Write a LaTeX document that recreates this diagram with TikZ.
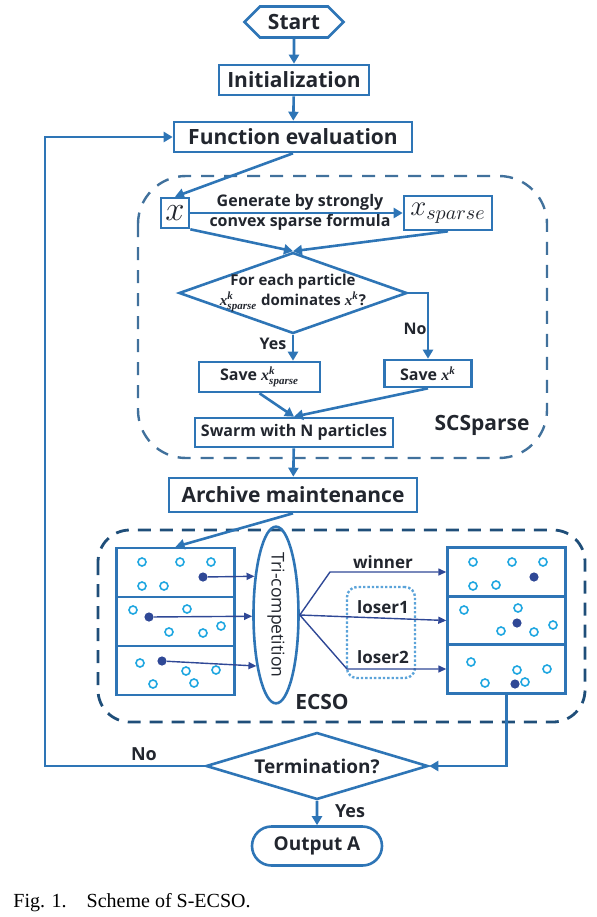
\documentclass[tikz,border=0pt]{standalone}
\usepackage{fontspec}
\setmainfont{Open Sans}
\newfontfamily\capfont{Liberation Serif}
\usetikzlibrary{shapes.geometric,shapes.symbols,shapes.misc,arrows.meta}
\definecolor{flowblue}{RGB}{46,117,182}
\definecolor{ecsoblue}{RGB}{31,78,121}
\definecolor{scsblue}{RGB}{65,113,156}
\definecolor{navy}{RGB}{47,72,150}
\definecolor{dotcyan}{RGB}{30,166,224}
\definecolor{dotlight}{RGB}{91,163,217}
\definecolor{inkgray}{RGB}{34,38,46}
\newcommand{\serifbi}{\capfont\bfseries\itshape}
\newcommand{\xsp}{${\hbox{\serifbi x}}^{\hbox{\serifbi\fontsize{5.5}{6}\selectfont k}}_{\hbox{\serifbi\fontsize{5.5}{6}\selectfont sparse}}$}
\newcommand{\xk}{${\hbox{\serifbi x}}^{\hbox{\serifbi\fontsize{5.5}{6}\selectfont k}}$}
\begin{document}
\begin{tikzpicture}[x=0.5pt,y=-0.5pt]
\tikzset{box/.style = {draw=flowblue, line width=1.3pt, fill=white, text=inkgray, inner sep=0pt, font=\bfseries\fontsize{10.5}{12}\selectfont},
  small/.style = {font=\bfseries\fontsize{8}{10}\selectfont, text=inkgray},
  decide/.style = {box, shape=diamond, aspect=2.8},
  flow/.style = {draw=flowblue, line width=1.3pt, -{Triangle[width=5pt,length=4.5pt]}},
  pick/.style = {draw=navy, line width=0.7pt, -{Triangle[width=3.5pt,length=4pt]}},
  cell/.style = {draw=flowblue, line width=1.2pt, minimum width=59pt, minimum height=24.5pt, inner sep=0pt},
  hollow/.style = {circle, draw=dotcyan, line width=0.8pt, minimum size=4pt, inner sep=0pt},
  solid/.style = {circle, fill=navy, minimum size=4.6pt, inner sep=0pt}}
\useasboundingbox (0,0) rectangle (597,917);
\draw[scsblue, line width=1.2pt, dash pattern=on 6.5pt off 5pt, rounded corners=24pt] (138,176) rectangle (547,458);
\draw[ecsoblue, line width=1.4pt, dash pattern=on 6.5pt off 4.5pt, rounded corners=16pt] (98,530) rectangle (585,722);
\node[box, shape=signal, signal to=west and east, minimum width=49.5pt, minimum height=15.5pt] (start) at (294,22) {Start};
\node[box, minimum width=75pt, minimum height=15pt] (init) at (294,80) {Initialization};
\node[box, minimum width=119pt, minimum height=15pt] (feval) at (293,137) {Function evaluation};
\node[box, minimum width=14pt, minimum height=15pt] (xorig) at (175,213) {\LARGE$x$};
\node[box, minimum width=44pt, minimum height=17pt] (xsparse) at (448,213) {\Large$x_{sparse}$};
\node[box, decide, inner xsep=-9pt, inner ysep=-3pt, minimum width=114pt, minimum height=40.5pt, font=\bfseries\fontsize{7.5}{10}\selectfont, align=center] (dom) at (293,293) {For each particle\\\xsp{} dominates \xk?};
\node[box, minimum width=60.5pt, minimum height=15pt, font=\bfseries\fontsize{8}{10}\selectfont] (savesp) at (259.5,377) {Save \xsp};
\node[box, minimum width=43.5pt, minimum height=13.5pt, font=\bfseries\fontsize{8}{10}\selectfont] (savex) at (428,373.5) {Save \xk};
\node[box, minimum width=99pt, minimum height=14.5pt, font=\bfseries\fontsize{8}{10}\selectfont] (swarm) at (294,432.5) {Swarm with N particles};
\node[box, minimum width=124pt, minimum height=17pt] (arch) at (293,495) {Archive maintenance};
\node[cell] (L1) at (175.5,572.5) {}; \node[cell] (L2) at (175.5,621.5) {}; \node[cell] (L3) at (175.5,670.5) {};
\node[cell] (R1) at (506.5,572) {}; \node[cell] (R2) at (506.5,620.5) {}; \node[cell] (R3) at (506.5,669) {};
\node[ellipse, draw=flowblue, line width=1.3pt, minimum width=22.5pt, minimum height=78pt, inner sep=0pt, text=inkgray, font=\fontsize{8.8}{10}\selectfont] (tri) at (276,615) {\rotatebox{-90}{Tri-competition}};
\node[draw=dotlight, line width=1.2pt, dash pattern=on 1.2pt off 1pt, rounded corners=5pt, minimum width=34pt, minimum height=45.5pt] (grp) at (381,632.5) {};
\node[box, decide, aspect=3.3, minimum width=111pt, minimum height=33.5pt, font=\bfseries\fontsize{9.5}{12}\selectfont] (term) at (317,766) {Termination?};
\node[box, shape=rounded rectangle, minimum width=65pt, minimum height=19.5pt, font=\bfseries\fontsize{9.5}{12}\selectfont] (out) at (317,846) {Output A};

\node[small, align=center] (gen) at (300,212) {Generate by strongly\\convex sparse formula};
\node[small] (no1) at (415,329) {No}; \node[small] (yes1) at (273,344) {Yes};
\node[font=\bfseries\fontsize{10.5}{12}\selectfont, text=inkgray] (scs) at (482,425) {SCSparse};
\node[font=\bfseries\fontsize{10.5}{12}\selectfont, text=inkgray] (ecso) at (322,702) {ECSO};
\node[small, font=\bfseries\fontsize{8.5}{10}\selectfont] (win) at (383,562) {winner}; \node[small, font=\bfseries\fontsize{8.5}{10}\selectfont] (los1) at (383,607) {loser1}; \node[small, font=\bfseries\fontsize{8.5}{10}\selectfont] (los2) at (383,657) {loser2};
\node[small, font=\bfseries\fontsize{9}{10}\selectfont] (no2) at (144,754) {No}; \node[small, font=\bfseries\fontsize{9}{10}\selectfont] (yes2) at (350,811) {Yes};
\node[anchor=west, inner sep=0pt, font=\capfont\fontsize{10}{12}\selectfont] (cap) at (13,903) {Fig. 1.\hspace{1em}Scheme of S-ECSO.};

\node[hollow] (a1) at (142,562) {}; \node[hollow] (a2) at (180,562) {}; \node[hollow] (a3) at (211,562) {}; \node[hollow] (a4) at (142,586) {}; \node[hollow] (a5) at (164,586) {};
\node[hollow] (a6) at (133,610) {}; \node[hollow] (a7) at (187,609) {}; \node[hollow] (a8) at (169,632) {}; \node[hollow] (a9) at (203,633) {}; \node[hollow] (a10) at (221,626) {};
\node[hollow] (a11) at (140,663) {}; \node[hollow] (a12) at (186,671) {}; \node[hollow] (a13) at (216,670) {}; \node[hollow] (a14) at (153,684) {}; \node[hollow] (a15) at (194,683) {};
\node[hollow] (b1) at (473,562) {}; \node[hollow] (b2) at (512,562) {}; \node[hollow] (b3) at (543,562) {}; \node[hollow] (b4) at (473,586) {}; \node[hollow] (b5) at (496,585) {};
\node[hollow] (b6) at (464,610) {}; \node[hollow] (b7) at (518,608) {}; \node[hollow] (b8) at (501,631) {}; \node[hollow] (b9) at (534,632) {}; \node[hollow] (b10) at (553,625) {};
\node[hollow] (b11) at (471,662) {}; \node[hollow] (b12) at (517,670) {}; \node[hollow] (b13) at (547,669) {}; \node[hollow] (b14) at (485,683) {}; \node[hollow] (b15) at (525,682) {};
\node[solid] (d1) at (203,577) {}; \node[solid] (d2) at (149,617) {}; \node[solid] (d3) at (162,661) {};
\node[solid] (e1) at (534,577) {}; \node[solid] (e2) at (517,623) {}; \node[solid] (e3) at (515,684) {};

\coordinate (wk) at (330,572); \coordinate (lk) at (347,669); \coordinate (back) at (45,766);
\draw[flow] (start) -- (init); \draw[flow] (init) -- (feval); \draw[flow] (feval.south) -- (xorig.north);
\draw[flow] (xorig) -- (xsparse); \draw[flow] (xorig.south east) -- (dom.north); \draw[flow] (xsparse.south) -- (dom.north);
\draw[flow] (dom.east) -| (savex.north); \draw[flow] (dom.south) -- (dom.south |- savesp.north);
\draw[flow] (savesp.south) -- (swarm.north); \draw[flow] (savex.south) -- (swarm.north);
\draw[flow] (swarm) -- (arch); \draw[flow] (arch.south) -- (L1.north);
\draw[pick] (d1) -- (tri.119); \draw[pick] (d2) -- (tri.183); \draw[pick] (d3) -- (tri.249);
\draw[pick] (tri.east) -- (wk) -- (R1.west); \draw[pick] (tri.east) -- (R2.west); \draw[pick] (tri.east) -- (lk) -- (R3.west);
\draw[flow] (R3.south) |- (term.east); \draw[flow] (term.west) -- (back) |- (feval.west); \draw[flow] (term) -- (out);
\end{tikzpicture}
\end{document}
